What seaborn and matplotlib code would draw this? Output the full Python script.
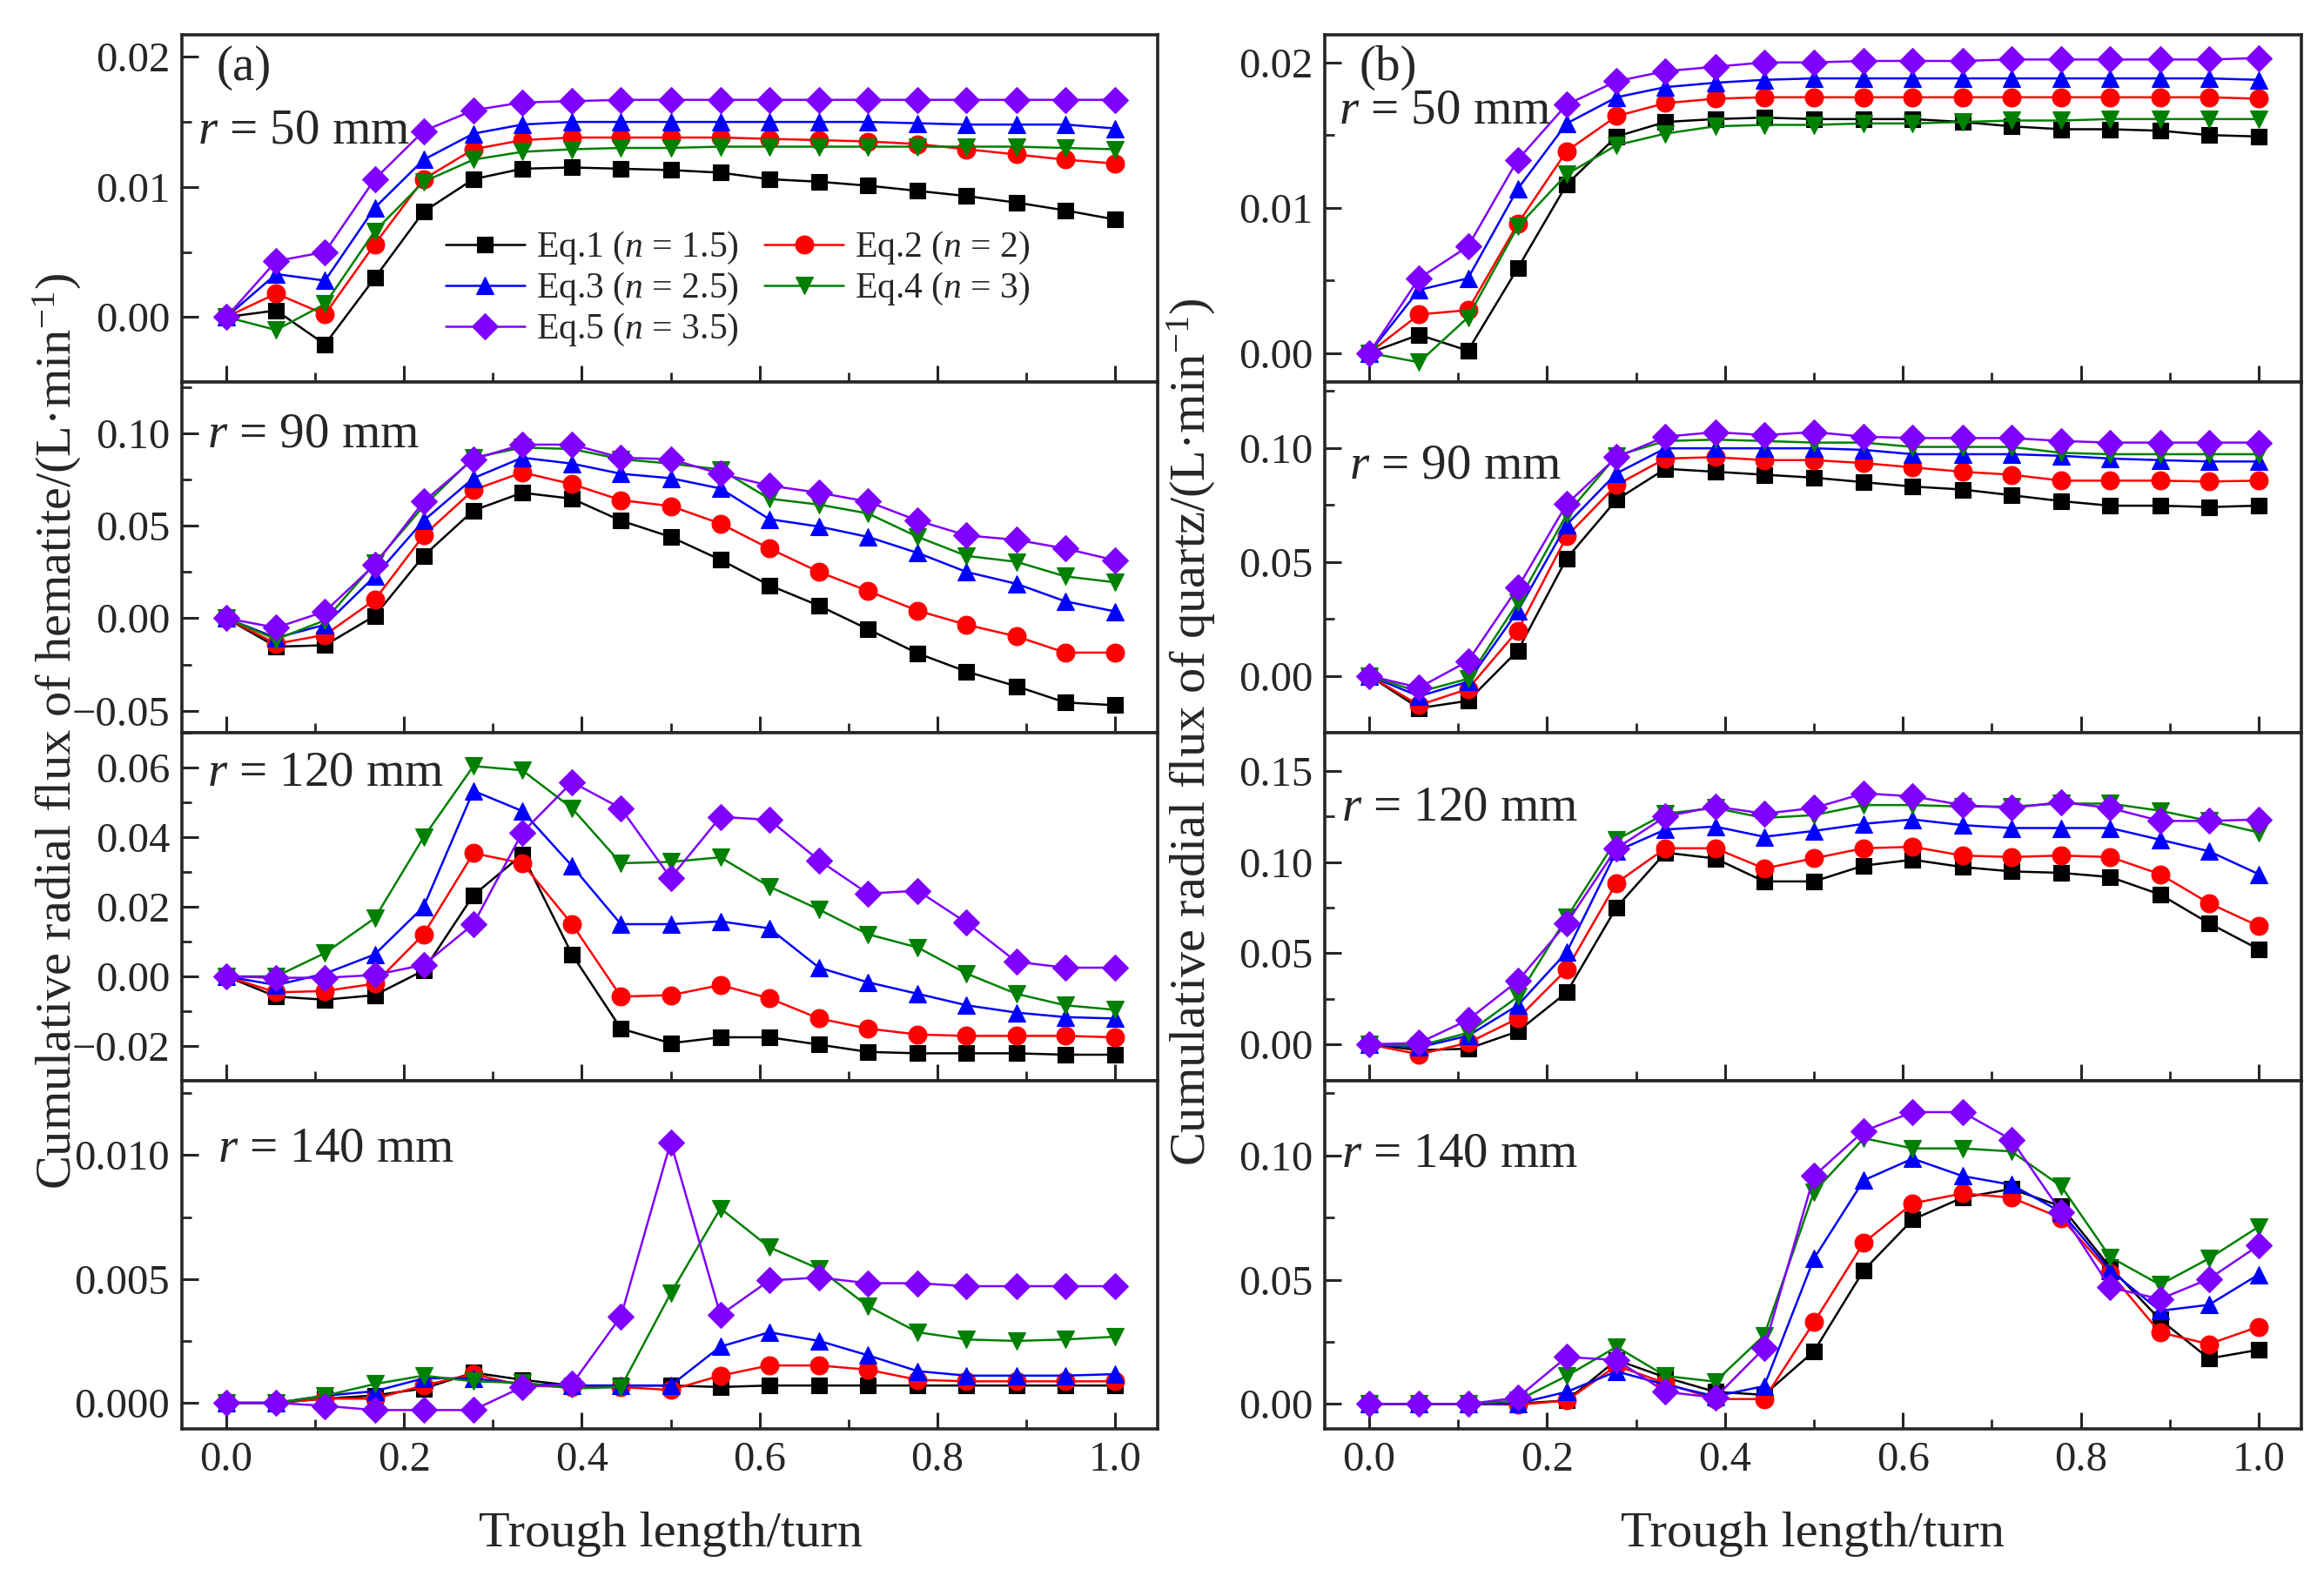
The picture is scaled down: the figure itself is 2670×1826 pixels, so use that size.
import matplotlib
matplotlib.use("Agg")
import matplotlib.pyplot as plt
import seaborn as sns
from matplotlib.ticker import MultipleLocator, FuncFormatter

# ---------------- data ----------------
trough_x = [0.000, 0.056, 0.111, 0.167, 0.222, 0.278, 0.333, 0.389, 0.444, 0.500,
            0.556, 0.611, 0.667, 0.722, 0.778, 0.833, 0.889, 0.944, 1.000]

series_labels = ["Eq.1 ($n$ = 1.5)", "Eq.2 ($n$ = 2)", "Eq.3 ($n$ = 2.5)",
                 "Eq.4 ($n$ = 3)", "Eq.5 ($n$ = 3.5)"]

# hematite, r = 50 mm
hem50_eq1 = [0, 0.0005, -0.0021, 0.0030, 0.0081, 0.0106, 0.0114, 0.0115, 0.0114, 0.0113, 0.0111, 0.0106, 0.0104, 0.0101, 0.0097, 0.0093, 0.0088, 0.0082, 0.0075]
hem50_eq2 = [0, 0.0018, 0.0002, 0.0056, 0.0106, 0.0129, 0.0136, 0.0138, 0.0138, 0.0138, 0.0138, 0.0137, 0.0136, 0.0135, 0.0133, 0.0129, 0.0125, 0.0121, 0.0118]
hem50_eq3 = [0, 0.0033, 0.0028, 0.0084, 0.0121, 0.0141, 0.0148, 0.0150, 0.0150, 0.0150, 0.0150, 0.0150, 0.0150, 0.0150, 0.0149, 0.0148, 0.0148, 0.0148, 0.0145]
hem50_eq4 = [0, -0.0010, 0.0010, 0.0066, 0.0104, 0.0121, 0.0127, 0.0129, 0.0130, 0.0130, 0.0131, 0.0131, 0.0131, 0.0131, 0.0131, 0.0131, 0.0131, 0.0130, 0.0129]
hem50_eq5 = [0, 0.0043, 0.0050, 0.0106, 0.0143, 0.0159, 0.0165, 0.0166, 0.0167, 0.0167, 0.0167, 0.0167, 0.0167, 0.0167, 0.0167, 0.0167, 0.0167, 0.0167, 0.0167]

# hematite, r = 90 mm
hem90_eq1 = [0, -0.0154, -0.0146, 0.0013, 0.0338, 0.0584, 0.0680, 0.0648, 0.0529, 0.0441, 0.0317, 0.0179, 0.0068, -0.0059, -0.0190, -0.0289, -0.0368, -0.0456, -0.0471]
hem90_eq2 = [0, -0.0138, -0.0090, 0.0100, 0.0449, 0.0695, 0.0790, 0.0727, 0.0640, 0.0608, 0.0513, 0.0378, 0.0251, 0.0148, 0.0041, -0.0035, -0.0098, -0.0186, -0.0186]
hem90_eq3 = [0, -0.0106, -0.0035, 0.0227, 0.0529, 0.0759, 0.0870, 0.0838, 0.0783, 0.0759, 0.0703, 0.0537, 0.0497, 0.0441, 0.0354, 0.0251, 0.0187, 0.0092, 0.0037]
hem90_eq4 = [0, -0.0114, -0.0011, 0.0298, 0.0608, 0.0870, 0.0925, 0.0917, 0.0862, 0.0838, 0.0806, 0.0648, 0.0616, 0.0568, 0.0441, 0.0338, 0.0306, 0.0227, 0.0195]
hem90_eq5 = [0, -0.0051, 0.0037, 0.0290, 0.0632, 0.0862, 0.0941, 0.0941, 0.0870, 0.0862, 0.0783, 0.0719, 0.0680, 0.0632, 0.0529, 0.0449, 0.0425, 0.0378, 0.0314]

# hematite, r = 120 mm
hem120_eq1 = [0, -0.0058, -0.0067, -0.0054, 0.0017, 0.0233, 0.0350, 0.0063, -0.0150, -0.0192, -0.0175, -0.0175, -0.0196, -0.0217, -0.0221, -0.0221, -0.0221, -0.0225, -0.0225]
hem120_eq2 = [0, -0.0046, -0.0042, -0.0021, 0.0121, 0.0354, 0.0325, 0.0150, -0.0058, -0.0054, -0.0025, -0.0063, -0.0121, -0.0150, -0.0167, -0.0171, -0.0171, -0.0171, -0.0175]
hem120_eq3 = [0, -0.0025, 0.0008, 0.0063, 0.0200, 0.0533, 0.0475, 0.0317, 0.0150, 0.0150, 0.0158, 0.0138, 0.0025, -0.0017, -0.0050, -0.0083, -0.0104, -0.0117, -0.0121]
hem120_eq4 = [0, 0.0000, 0.0067, 0.0167, 0.0400, 0.0604, 0.0592, 0.0483, 0.0325, 0.0329, 0.0342, 0.0258, 0.0192, 0.0121, 0.0083, 0.0008, -0.0050, -0.0083, -0.0096]
hem120_eq5 = [0, -0.0004, -0.0004, 0.0004, 0.0033, 0.0150, 0.0413, 0.0558, 0.0483, 0.0283, 0.0458, 0.0450, 0.0333, 0.0238, 0.0246, 0.0154, 0.0042, 0.0025, 0.0025]

# hematite, r = 140 mm
hem140_eq1 = [0, 0, 0.00017, 0.00030, 0.00058, 0.00122, 0.00093, 0.00070, 0.00070, 0.00070, 0.00064, 0.00070, 0.00070, 0.00070, 0.00070, 0.00070, 0.00070, 0.00070, 0.00070]
hem140_eq2 = [0, 0, 0.00017, 0.00017, 0.00070, 0.00116, 0.00070, 0.00064, 0.00064, 0.00052, 0.00110, 0.00151, 0.00151, 0.00134, 0.00093, 0.00087, 0.00087, 0.00087, 0.00087]
hem140_eq3 = [0, 0, 0.00029, 0.00047, 0.00099, 0.00099, 0.00076, 0.00070, 0.00070, 0.00070, 0.00227, 0.00285, 0.00250, 0.00192, 0.00128, 0.00110, 0.00110, 0.00110, 0.00116]
hem140_eq4 = [0, 0, 0.00029, 0.00076, 0.00110, 0.00087, 0.00081, 0.00058, 0.00064, 0.00442, 0.00785, 0.00628, 0.00541, 0.00390, 0.00285, 0.00256, 0.00250, 0.00256, 0.00267]
hem140_eq5 = [0, 0, -0.00012, -0.00029, -0.00029, -0.00029, 0.00064, 0.00076, 0.00349, 0.01052, 0.00355, 0.00494, 0.00506, 0.00483, 0.00483, 0.00471, 0.00471, 0.00471, 0.00471]

# quartz, r = 50 mm
qtz50_eq1 = [0, 0.00125, 0.00016, 0.00584, 0.0116, 0.0149, 0.0159, 0.0161, 0.0162, 0.0161, 0.0161, 0.0161, 0.0159, 0.0156, 0.0154, 0.0154, 0.0153, 0.0150, 0.0149]
qtz50_eq2 = [0, 0.00265, 0.00295, 0.0089, 0.0139, 0.0163, 0.0172, 0.0175, 0.0176, 0.0176, 0.0176, 0.0176, 0.0176, 0.0176, 0.0176, 0.0176, 0.0176, 0.0176, 0.0175]
qtz50_eq3 = [0, 0.00434, 0.00514, 0.0113, 0.0158, 0.0176, 0.0183, 0.0186, 0.0188, 0.0189, 0.0189, 0.0189, 0.0189, 0.0189, 0.0189, 0.0189, 0.0189, 0.0189, 0.0188]
qtz50_eq4 = [0, -0.00064, 0.00245, 0.0087, 0.0123, 0.0143, 0.0151, 0.0156, 0.0157, 0.0157, 0.0158, 0.0158, 0.0159, 0.0160, 0.0160, 0.0161, 0.0161, 0.0161, 0.0161]
qtz50_eq5 = [0, 0.00514, 0.00733, 0.0133, 0.0171, 0.0187, 0.0194, 0.0197, 0.0200, 0.0200, 0.0201, 0.0201, 0.0201, 0.0202, 0.0202, 0.0202, 0.0202, 0.0202, 0.0203]

# quartz, r = 90 mm
qtz90_eq1 = [0, -0.0142, -0.0110, 0.0110, 0.0515, 0.0773, 0.0909, 0.0896, 0.0883, 0.0870, 0.0850, 0.0831, 0.0818, 0.0793, 0.0767, 0.0747, 0.0747, 0.0741, 0.0747]
qtz90_eq2 = [0, -0.0129, -0.0058, 0.0199, 0.0612, 0.0838, 0.0954, 0.0960, 0.0947, 0.0947, 0.0934, 0.0915, 0.0896, 0.0883, 0.0857, 0.0857, 0.0857, 0.0853, 0.0857]
qtz90_eq3 = [0, -0.0090, -0.0026, 0.0284, 0.0664, 0.0889, 0.0999, 0.0999, 0.0999, 0.0999, 0.0992, 0.0973, 0.0973, 0.0973, 0.0966, 0.0954, 0.0947, 0.0941, 0.0941]
qtz90_eq4 = [0, -0.0071, -0.0013, 0.0322, 0.0709, 0.0966, 0.1031, 0.1037, 0.1031, 0.1024, 0.1024, 0.1005, 0.1005, 0.1005, 0.0979, 0.0973, 0.0973, 0.0973, 0.0973]
qtz90_eq5 = [0, -0.0052, 0.0064, 0.0387, 0.0754, 0.0960, 0.1050, 0.1070, 0.1057, 0.1070, 0.1050, 0.1044, 0.1044, 0.1044, 0.1031, 0.1024, 0.1024, 0.1024, 0.1024]

# quartz, r = 120 mm
qtz120_eq1 = [0, -0.0032, -0.0024, 0.0071, 0.0285, 0.0752, 0.1052, 0.1020, 0.0894, 0.0894, 0.0981, 0.1013, 0.0973, 0.0949, 0.0941, 0.0918, 0.0823, 0.0665, 0.0522]
qtz120_eq2 = [0, -0.0055, 0.0008, 0.0142, 0.0411, 0.0886, 0.1076, 0.1076, 0.0965, 0.1021, 0.1076, 0.1084, 0.1036, 0.1028, 0.1036, 0.1028, 0.0934, 0.0775, 0.0649]
qtz120_eq3 = [0, -0.0016, 0.0047, 0.0214, 0.0506, 0.1060, 0.1179, 0.1195, 0.1139, 0.1171, 0.1210, 0.1234, 0.1203, 0.1187, 0.1187, 0.1187, 0.1123, 0.1060, 0.0934]
qtz120_eq4 = [0, -0.0008, 0.0063, 0.0261, 0.0696, 0.1123, 0.1266, 0.1297, 0.1242, 0.1258, 0.1313, 0.1313, 0.1305, 0.1305, 0.1321, 0.1321, 0.1282, 0.1226, 0.1163]
qtz120_eq5 = [0, 0.0008, 0.0134, 0.0348, 0.0665, 0.1076, 0.1250, 0.1305, 0.1266, 0.1297, 0.1377, 0.1361, 0.1313, 0.1297, 0.1329, 0.1297, 0.1226, 0.1226, 0.1234]

# quartz, r = 140 mm
qtz140_eq1 = [0, 0, 0, 0.0002, 0.0014, 0.0177, 0.0107, 0.0049, 0.0037, 0.0212, 0.0538, 0.0742, 0.0830, 0.0865, 0.0795, 0.0550, 0.0340, 0.0183, 0.0218]
qtz140_eq2 = [0, 0, 0, -0.0003, 0.0014, 0.0154, 0.0084, 0.0020, 0.0020, 0.0329, 0.0649, 0.0807, 0.0847, 0.0830, 0.0748, 0.0527, 0.0288, 0.0241, 0.0311]
qtz140_eq3 = [0, 0, 0, 0.0002, 0.0049, 0.0131, 0.0078, 0.0031, 0.0072, 0.0585, 0.0900, 0.0987, 0.0917, 0.0882, 0.0772, 0.0538, 0.0375, 0.0399, 0.0521]
qtz140_eq4 = [0, 0, 0, 0.0014, 0.0113, 0.0230, 0.0113, 0.0090, 0.0276, 0.0853, 0.1069, 0.1028, 0.1028, 0.1016, 0.0876, 0.0591, 0.0480, 0.0585, 0.0713]
qtz140_eq5 = [0, 0, 0, 0.0026, 0.0189, 0.0177, 0.0049, 0.0026, 0.0224, 0.0917, 0.1098, 0.1174, 0.1174, 0.1063, 0.0772, 0.0469, 0.0422, 0.0503, 0.0638]

radius_labels = ["50", "90", "120", "140"]

# ---------------- style ----------------
sns.set_style("ticks")
plt.rcParams["font.family"] = ["Liberation Serif", "DejaVu Serif"]
plt.rcParams["mathtext.fontset"] = "custom"
plt.rcParams["mathtext.rm"] = "Liberation Serif"
plt.rcParams["mathtext.it"] = "Liberation Serif:italic"
plt.rcParams["axes.unicode_minus"] = True

colors = ["#000000", "#FF0000", "#0000FF", "#008000", "#8000FF"]
markers = ["s", "o", "^", "v", "D"]
msizes = [13, 15, 15, 15, 15]

W, H = 2670, 1826
fig = plt.figure(figsize=(W / 100, H / 100), dpi=100)

tops = [40, 439, 842, 1242]
bots = [439, 842, 1242, 1642]
cols_x = [(209, 1330), (1522, 2644)]

hem_panels = [
    [hem50_eq1, hem50_eq2, hem50_eq3, hem50_eq4, hem50_eq5],
    [hem90_eq1, hem90_eq2, hem90_eq3, hem90_eq4, hem90_eq5],
    [hem120_eq1, hem120_eq2, hem120_eq3, hem120_eq4, hem120_eq5],
    [hem140_eq1, hem140_eq2, hem140_eq3, hem140_eq4, hem140_eq5],
]
qtz_panels = [
    [qtz50_eq1, qtz50_eq2, qtz50_eq3, qtz50_eq4, qtz50_eq5],
    [qtz90_eq1, qtz90_eq2, qtz90_eq3, qtz90_eq4, qtz90_eq5],
    [qtz120_eq1, qtz120_eq2, qtz120_eq3, qtz120_eq4, qtz120_eq5],
    [qtz140_eq1, qtz140_eq2, qtz140_eq3, qtz140_eq4, qtz140_eq5],
]

# per panel: ylim, major, minor, decimals
hem_axes_cfg = [
    ((-0.005, 0.0217), 0.01, 0.005, 2),
    ((-0.062, 0.128), 0.05, 0.025, 2),
    ((-0.030, 0.070), 0.02, 0.01, 2),
    ((-0.00105, 0.013), 0.005, 0.0025, 3),
]
qtz_axes_cfg = [
    ((-0.002, 0.0219), 0.01, 0.005, 2),
    ((-0.025, 0.129), 0.05, 0.025, 2),
    ((-0.020, 0.171), 0.05, 0.025, 2),
    ((-0.010, 0.130), 0.05, 0.025, 2),
]
hem_text_pos = [(0.016, 0.724), (0.026, 0.851), (0.026, 0.883), (0.037, 0.805)]
qtz_text_pos = [(0.014, 0.780), (0.025, 0.760), (0.017, 0.785), (0.017, 0.790)]


def make_fmt(dec):
    def f(v, pos):
        s = "%.*f" % (dec, v)
        if float(s) == 0:
            s = "%.*f" % (dec, 0.0)
        return s.replace("-", "\u2212")
    return FuncFormatter(f)


TICK_FS = 35
LABEL_FS = 42
TEXT_FS = 41
LEG_FS = 30

all_axes = []
for c, (panels, cfgs, tpos) in enumerate([(hem_panels, hem_axes_cfg, hem_text_pos),
                                          (qtz_panels, qtz_axes_cfg, qtz_text_pos)]):
    x0, x1 = cols_x[c]
    for r in range(4):
        rect = [x0 / W, 1 - bots[r] / H, (x1 - x0) / W, (bots[r] - tops[r]) / H]
        ax = fig.add_axes(rect)
        all_axes.append(ax)
        for i in range(5):
            sns.lineplot(x=trough_x, y=panels[r][i], ax=ax, color=colors[i],
                         marker=markers[i], markersize=msizes[i],
                         markeredgewidth=0.8, markeredgecolor=colors[i],
                         linewidth=1.8, estimator=None, sort=False, legend=False)
        ylim, major, minor, dec = cfgs[r]
        ax.set_xlim(-0.05, 1.048)
        ax.set_ylim(*ylim)
        ax.xaxis.set_major_locator(MultipleLocator(0.2))
        ax.xaxis.set_minor_locator(MultipleLocator(0.1))
        ax.yaxis.set_major_locator(MultipleLocator(major))
        ax.yaxis.set_minor_locator(MultipleLocator(minor))
        ax.yaxis.set_major_formatter(make_fmt(dec))
        ax.xaxis.set_major_formatter(make_fmt(1))
        ax.tick_params(axis="both", which="major", direction="in", length=14,
                       width=2.2, labelsize=TICK_FS, pad=10)
        ax.tick_params(axis="both", which="minor", direction="in", length=8, width=2.0)
        ax.tick_params(top=False, right=False, which="both")
        if r < 3:
            ax.tick_params(labelbottom=False)
        for sp in ax.spines.values():
            sp.set_linewidth(2.6)
            sp.set_visible(True)
        ax.set_xlabel("")
        ax.set_ylabel("")
        tx, ty = tpos[r]
        ax.text(tx, ty, "$r$ = %s mm" % radius_labels[r], transform=ax.transAxes,
                fontsize=TEXT_FS, ha="left", va="center")
        if r == 0:
            ax.text(0.035, 0.905, "(a)" if c == 0 else "(b)", transform=ax.transAxes,
                    fontsize=TEXT_FS, ha="left", va="center")

# legend in the first hematite panel
ax0 = all_axes[0]
lines = ax0.get_lines()[:5]
order = [0, 2, 4, 1, 3]
ax0.legend([lines[k] for k in order], [series_labels[k] for k in order],
           ncol=2, loc="upper left", bbox_to_anchor=(0.255, 0.48), frameon=False,
           fontsize=LEG_FS, handlelength=2.2, handletextpad=0.3,
           columnspacing=0.7, labelspacing=0.12, borderaxespad=0.0)

# axis labels
fig.text(66 / W, 1 - 841 / H, "Cumulative radial flux of hematite/(L·min$^{-1}$)",
         rotation=90, ha="center", va="center", fontsize=LABEL_FS)
fig.text(1369 / W, 1 - 841 / H, "Cumulative radial flux of quartz/(L·min$^{-1}$)",
         rotation=90, ha="center", va="center", fontsize=LABEL_FS)
fig.text(770 / W, 1 - 1763 / H, "Trough length/turn", ha="center", va="center",
         fontsize=LABEL_FS)
fig.text(2083 / W, 1 - 1763 / H, "Trough length/turn", ha="center", va="center",
         fontsize=LABEL_FS)

fig.savefig("out.png", dpi=100, facecolor="white")
